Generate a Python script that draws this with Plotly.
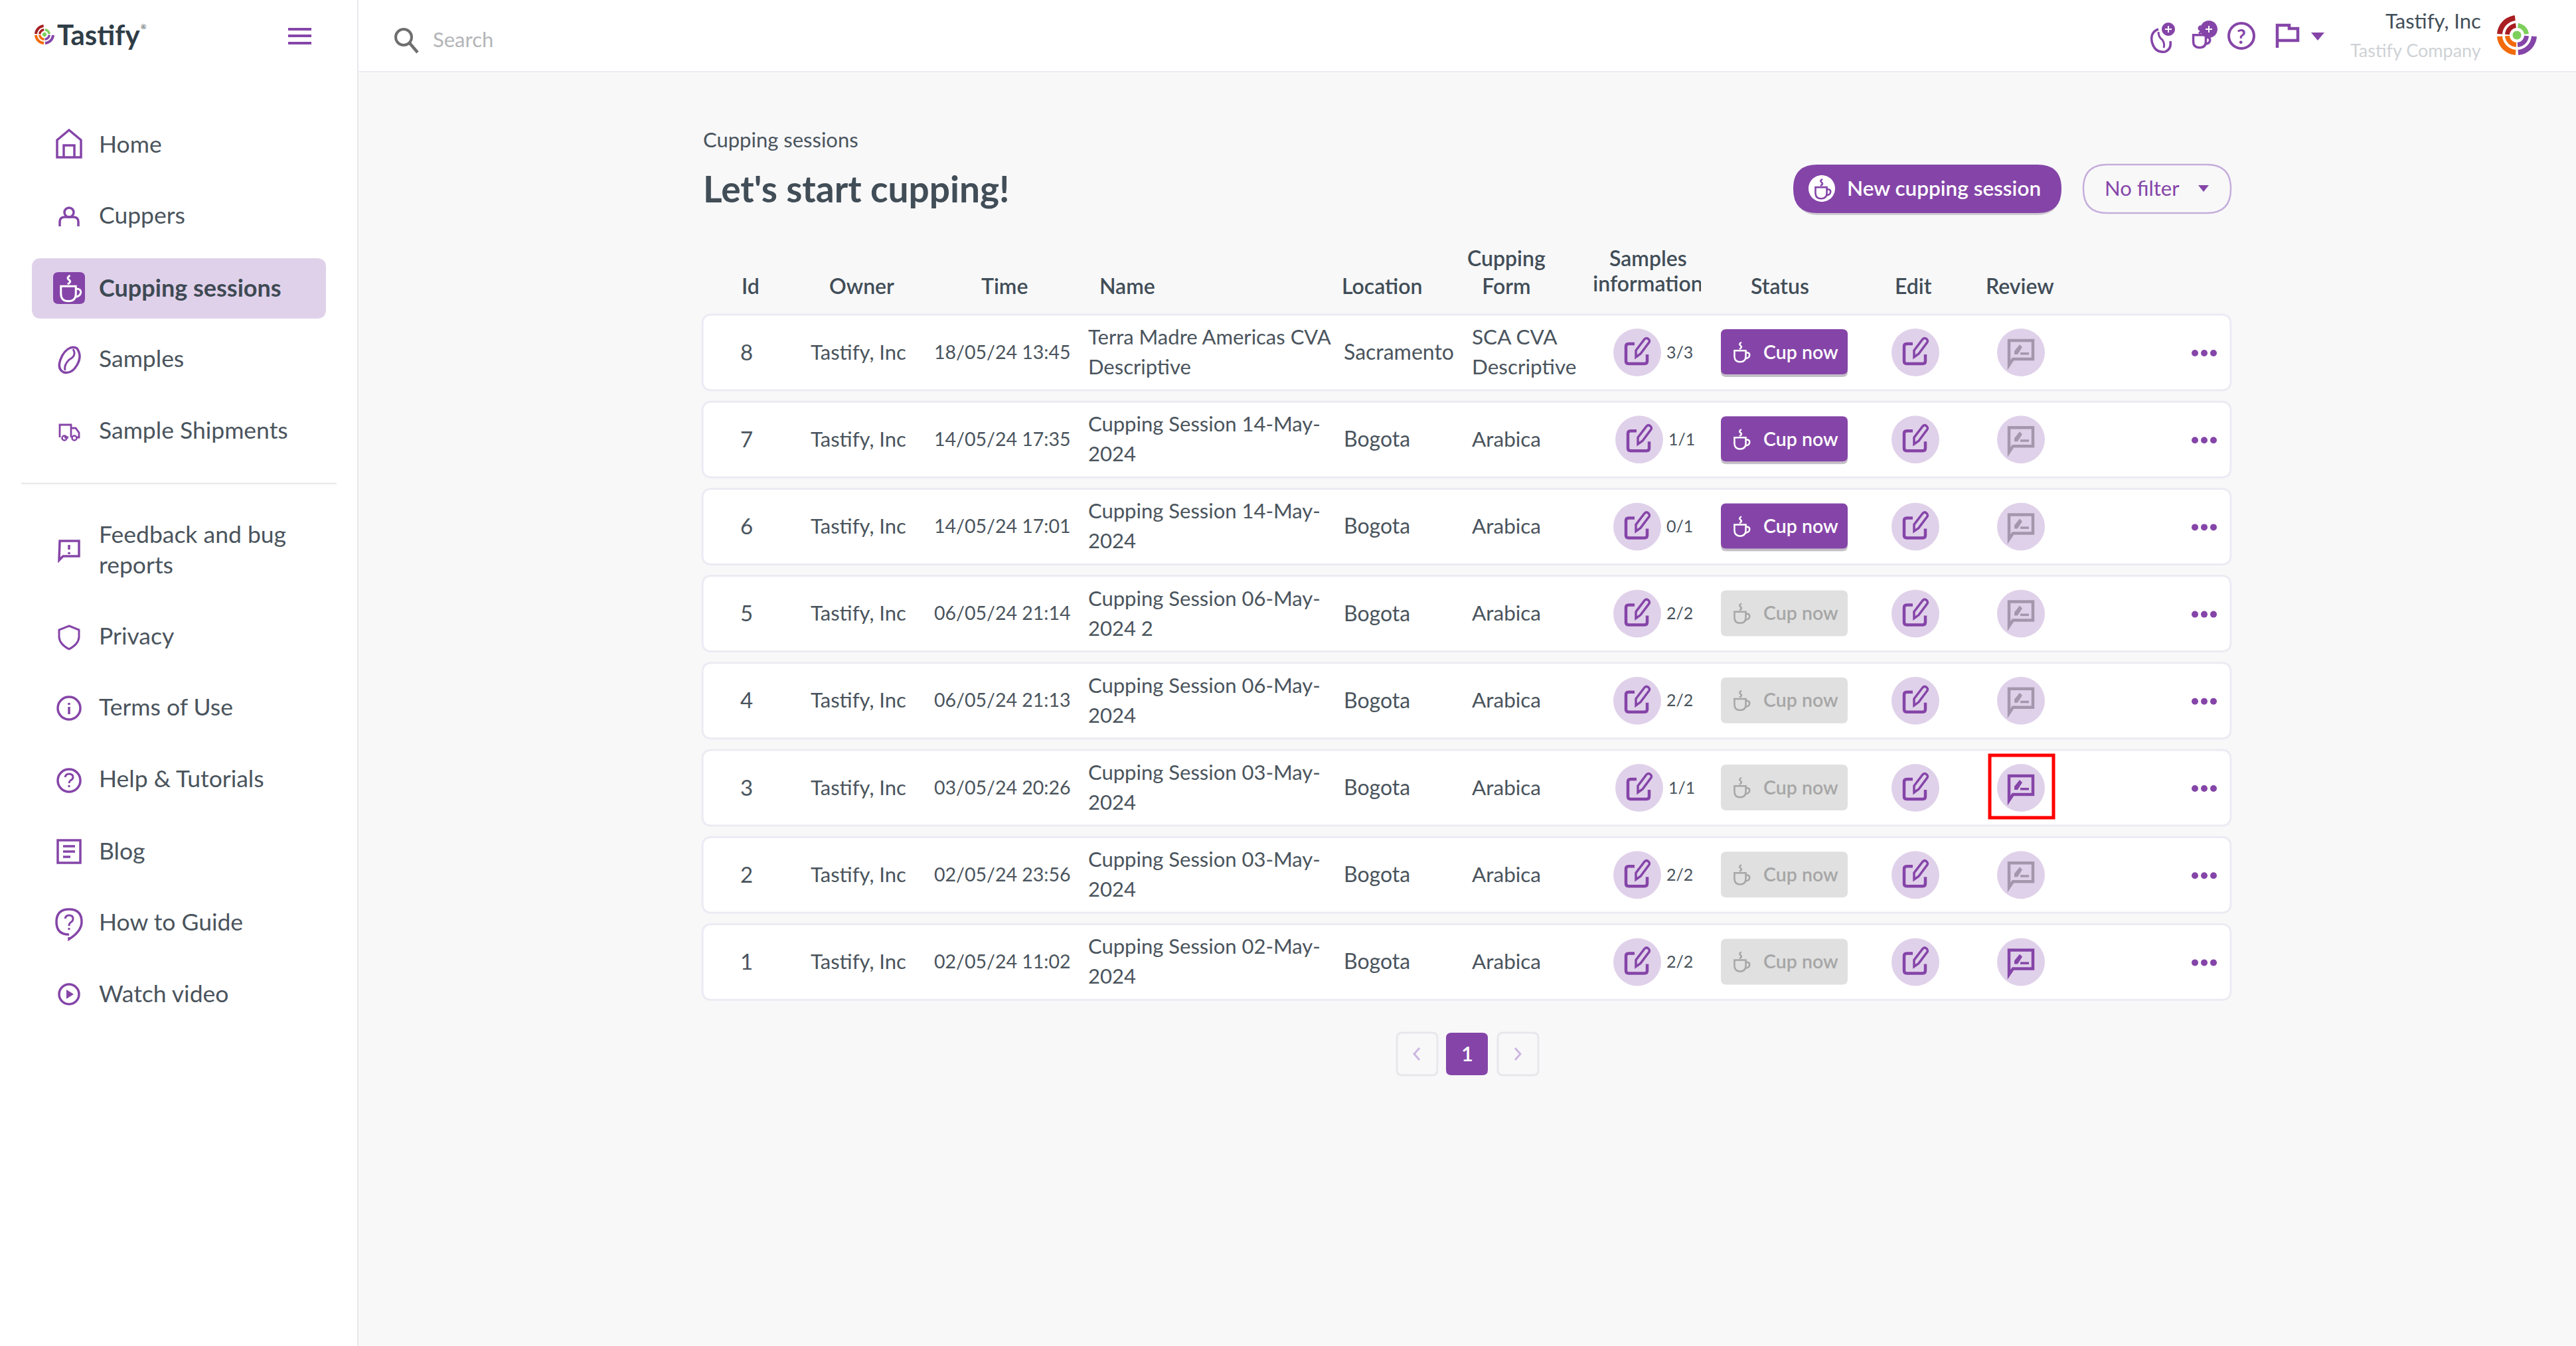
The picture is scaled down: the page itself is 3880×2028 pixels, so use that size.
import math, re
import plotly.graph_objects as go

# ---------- content ----------
ids = [8, 7, 6, 5, 4, 3, 2, 1]
owners = ["Tastify, Inc"] * 8
times = ["18/05/24 13:45", "14/05/24 17:35", "14/05/24 17:01", "06/05/24 21:14",
         "06/05/24 21:13", "03/05/24 20:26", "02/05/24 23:56", "02/05/24 11:02"]
names = ["Terra Madre Americas CVA<br>Descriptive", "Cupping Session 14-May-<br>2024",
         "Cupping Session 14-May-<br>2024", "Cupping Session 06-May-<br>2024 2",
         "Cupping Session 06-May-<br>2024", "Cupping Session 03-May-<br>2024",
         "Cupping Session 03-May-<br>2024", "Cupping Session 02-May-<br>2024"]
locations = ["Sacramento"] + ["Bogota"] * 7
forms = ["SCA CVA<br>Descriptive"] + ["Arabica"] * 7
samples = ["3/3", "1/1", "0/1", "2/2", "2/2", "1/1", "2/2", "2/2"]
cup_active = [True, True, True, False, False, False, False, False]
review_active = [False, False, False, False, False, True, False, True]
headers = ["Id", "Owner", "Time", "Name", "Location", "Cupping<br>Form", "Status", "Edit", "Review"]
nav_labels = ["Home", "Cuppers", "Cupping sessions", "Samples", "Sample Shipments",
              "Feedback and bug<br>reports", "Privacy", "Terms of Use", "Help &amp; Tutorials",
              "Blog", "How to Guide", "Watch video"]

# ---------- style and layout ----------
W, H = 3880, 2028
PURPLE, LILAC = "#8545a8", "#e0d1ea"
BG, LINE = "#f8f8f9", "#ecebf3"
TXT, HEAD, GRAY = "#4a545d", "#414d57", "#a497ad"
FONT = "Lato"
ROW0, PITCH, ROW_H = 531, 131.2, 114
rows_y = [ROW0 + i * PITCH for i in range(len(ids))]
nav_y = [218, 325, 434, 541, 649, 829, 959, 1066, 1174, 1283, 1390, 1498]

shapes, annos = [], []

def rr(x0, y0, x1, y1, r):
    return (f"M {x0+r} {y0} L {x1-r} {y0} Q {x1} {y0} {x1} {y0+r} L {x1} {y1-r} Q {x1} {y1} {x1-r} {y1} "
            f"L {x0+r} {y1} Q {x0} {y1} {x0} {y1-r} L {x0} {y0+r} Q {x0} {y0} {x0+r} {y0} Z")

def box(x0, y0, x1, y1, r=0, fill=None, line=None, lw=0, layer="below"):
    shapes.append(dict(type="path", path=rr(x0, y0, x1, y1, r), fillcolor=fill or "rgba(0,0,0,0)",
                       line=dict(color=line or "rgba(0,0,0,0)", width=lw), layer=layer))

def rel(p, cx, cy, s=1.0):
    out, k = [], 0
    for t in re.findall(r"[A-Za-z]|-?\d+\.?\d*", p):
        if t.isalpha():
            out.append(t)
        else:
            out.append(f"{(cx if k % 2 == 0 else cy) + float(t) * s:.2f}")
            k += 1
    return " ".join(out)

def ic(p, cx, cy, color=PURPLE, lw=3.5, s=1.0, fill=None, layer="above"):
    shapes.append(dict(type="path", path=rel(p, cx, cy, s), fillcolor=fill or "rgba(0,0,0,0)",
                       line=dict(color=color, width=lw if lw else 0), layer=layer))

def ring(r, ox=0, oy=0):
    k = 0.5523 * r
    return (f"M {ox-r} {oy} C {ox-r} {oy-k} {ox-k} {oy-r} {ox} {oy-r} C {ox+k} {oy-r} {ox+r} {oy-k} {ox+r} {oy} "
            f"C {ox+r} {oy+k} {ox+k} {oy+r} {ox} {oy+r} C {ox-k} {oy+r} {ox-r} {oy+k} {ox-r} {oy} Z")

def txt(x, y, t, size=33, color=TXT, anchor="left", weight=400, font=FONT):
    dx = {"left": -2, "right": 4, "center": 0}[anchor]
    annos.append(dict(x=x + dx, y=y - 1.5, text=t, showarrow=False, xanchor=anchor, yanchor="middle", align=anchor,
                      font=dict(family=font, size=size, color=color, weight=weight)))

def cell(x, y, t, size):
    parts = t.split("<br>")
    if len(parts) == 2:
        txt(x, y - 22.5, parts[0], size)
        txt(x, y + 22.5, parts[1], size)
    else:
        txt(x, y, t, size)

def cup(cx, cy, color, s=1.0, lw=2.5):
    ic("M -9 -3 L 9 -3 L 9 6 Q 9 15 0 15 Q -9 15 -9 6 Z", cx, cy, color, lw, s)
    ic("M 9 0 Q 15 0 15 4 Q 15 9 8 10", cx, cy, color, lw, s)
    ic("M 2 -16 Q -3 -13 1 -10.5 Q 4 -8 -1 -5.5", cx, cy, color, lw, s)

def edit_icon(cx, cy):
    ic("M -4 -13 L -13 -13 Q -17 -13 -17 -9 L -17 13 Q -17 17 -13 17 L 11 17 Q 15 17 15 13 L 15 3", cx, cy, PURPLE, 4.5)
    ic("M -2 7 L -2 -3 L 11 -20 Q 14 -23 17 -20 Q 20 -17 17 -14 L 5 2 Z", cx, cy, PURPLE, 3.5)

def review_icon(cx, cy, color):
    ic("M -18 -18 L 18 -18 L 18 10 L -12 10 L -18 19 Z", cx, cy, color, 4.5)
    ic("M -10 3 L -10 -2 L -2 -12 L 2 -8 L -5 3 Z", cx, cy, color, 0, fill=color)
    ic("M -1 0 L 12 0 L 12 3.5 L -1 3.5 Z", cx, cy, color, 0, fill=color)

def wedge(cx, cy, r0, r1, a0, a1, color, s=1.0):
    n = 14
    pts = []
    for i in range(n + 1):
        a = math.radians(a0 + (a1 - a0) * i / n)
        pts.append((cx + r1 * s * math.cos(a), cy - r1 * s * math.sin(a)))
    for i in range(n, -1, -1):
        a = math.radians(a0 + (a1 - a0) * i / n)
        pts.append((cx + r0 * s * math.cos(a), cy - r0 * s * math.sin(a)))
    p = "M " + " L ".join(f"{x:.2f} {y:.2f}" for x, y in pts) + " Z"
    shapes.append(dict(type="path", path=p, fillcolor=color, line=dict(width=0), layer="above"))

def logo(cx, cy, s):
    R, G, V, O = "#a81e22", "#7dcf5c", "#8545a8", "#f26a0a"
    wedge(cx, cy, 22, 30, 96, 176, R, s); wedge(cx, cy, 11, 18, 96, 176, R, s)
    wedge(cx, cy, 11, 18, 6, 84, G, s)
    wedge(cx, cy, 22, 30, 184, 266, O, s); wedge(cx, cy, 11, 18, 184, 266, O, s)
    wedge(cx, cy, 22, 30, 274, 356, V, s); wedge(cx, cy, 11, 18, 274, 356, V, s)
    ic(ring(6.5), cx, cy, G, 0, s, fill=G)

# ---------- page frame ----------
box(0, 0, 539, H, 0, "#ffffff", None, 0)
box(539, 0, W, 108, 0, "#ffffff", None, 0)
shapes.append(dict(type="line", x0=539, x1=539, y0=0, y1=H, line=dict(color="#e8e8ec", width=2), layer="below"))
shapes.append(dict(type="line", x0=539, x1=W, y0=108, y1=108, line=dict(color=LINE, width=2), layer="below"))

# brand
logo(67, 52, 0.5)
txt(86, 53, "Tastify", 42, "#2f3d47", weight=700)
txt(212, 41, "®", 10, "#2f3d47")
for y in (44, 54, 65):
    box(434, y - 2, 469, y + 2, 0, PURPLE)

# search
ic(ring(12), 608, 56, "#6e6e6e", 4)
ic("M 9 9 L 21 23", 608, 56, "#6e6e6e", 4.5)
txt(652, 60, "Search", 31, "#b3b5b8")

# top-right
ic("M -6 -12 Q -18 -8 -16 6 Q -12 24 4 22 Q 14 18 12 6", 3257, 56, PURPLE, 3.5)
ic("M -6 -8 Q -6 0 0 4 Q 4 10 2 16", 3257, 56, PURPLE, 3)
ic(ring(10), 3266, 44, PURPLE, 0, fill=PURPLE)
cup(3313, 56, PURPLE, 1.05, 3.5)
ic(ring(13), 3327, 44, PURPLE, 0, fill=PURPLE)
for cx in (3266, 3327):
    ic("M -5 0 L 5 0 M 0 -5 L 0 5", cx, 44, "#ffffff", 2)
ic(ring(19), 3376, 54, PURPLE, 4)
txt(3376, 55, "?", 30, PURPLE, "center", 700)
ic("M 0 34 L 0 0 L 18 0 L 18 5 L 31 5 L 31 23 L 0 23", 3430, 38, PURPLE, 4.5)
ic("M -10 -6 L 10 -6 L 0 6 Z", 3491, 55, PURPLE, 0, fill=PURPLE)
txt(3735, 32, "Tastify, Inc", 31, "#434f59", "right")
txt(3735, 77, "Tastify Company", 27, "#ced2d6", "right")
logo(3791, 53, 1.0)

# sidebar
box(48, 389, 491, 480, 14, LILAC)
box(80, 410, 128, 458, 8, PURPLE)
cup(103, 435, "#ffffff", 1.25, 3)
box(32, 727.5, 507, 729.5, 0, "#e6e6ea")
for i, (lab, y) in enumerate(zip(nav_labels, nav_y)):
    txt(149, y, lab, 36 if i == 2 else 35.5, "#3e4a54" if i == 2 else TXT, weight=700 if i == 2 else 400)

# sidebar icons
ic("M -18 20 L -18 -6 L 0 -21 L 18 -6 L 18 20 Z", 104, 217)
ic("M -8 20 L -8 2 L 8 2 L 8 20", 104, 217)
ic(ring(7), 104, 320)
ic("M -14 21 L -14 14 Q -14 7 -6 7 L 6 7 Q 14 7 14 14 L 14 21", 104, 320)
ic("M 12 -17 Q 20 -6 12 8 Q 4 22 -8 19 Q -18 14 -13 0 Q -8 -14 2 -18 Q 8 -20 12 -17 Z", 104, 542)
ic("M 6 -16 Q 12 -6 0 0 Q -8 8 -6 16", 104, 542, PURPLE, 3)
ic("M -14 9 L -14 -10 L 3 -10 L 3 9 M 3 -5 L 10 -5 L 15 2 L 15 9 L 11 9 M -1 9 L -7 9", 104, 650, PURPLE, 2.8)
ic(ring(3.5), 97, 660, PURPLE, 2.5)
ic(ring(3.5), 112, 660, PURPLE, 2.5)
ic("M -14 -14 L 15 -14 L 15 9 L -9 9 L -15 15 Z", 104, 829, PURPLE, 3.5)
ic("M 0 -8 L 0 -1 M 0 3 L 0 6", 104, 829, PURPLE, 3.5)
ic("M 0 -17 L 15 -11 L 15 0 Q 14 11 0 18 Q -14 11 -15 0 L -15 -11 Z", 104, 960, PURPLE, 3)
ic(ring(17), 104, 1067)
ic("M 0 -2 L 0 9 M 0 -8 L 0 -5", 104, 1067, PURPLE, 3.5)
ic(ring(17), 104, 1176)
ic("M -6 -5 Q -5 -10 0 -10 Q 6 -10 6 -5 Q 6 -2 2 0 Q 0 2 0 4 M 0 7 L 0 10", 104, 1176, PURPLE, 3)
ic("M -17 -17 L 17 -17 L 17 17 L -17 17 Z", 104, 1283, PURPLE, 3.5)
ic("M -9 -8 L 9 -8 M -9 0 L 9 0 M -9 8 L 2 8", 104, 1283, PURPLE, 3.5)
ic("M 0 21 L 0 24 Q 19 12 19 -2 Q 19 -21 0 -21 Q -19 -21 -19 -2 Q -19 17 0 17", 104, 1391, PURPLE, 3.5)
ic("M -6 -7 Q -5 -12 0 -12 Q 6 -12 6 -7 Q 6 -3 2 -1 Q 0 1 0 4 M 0 7 L 0 10", 104, 1391, PURPLE, 3)
ic(ring(15), 104, 1498)
ic("M -4 -7 L 7 0 L -4 7 Z", 104, 1498, PURPLE, 0, fill=PURPLE)

# page heading and actions
txt(1059, 211, "Cupping sessions", 31, TXT)
txt(1059, 285, "Let's start cupping!", 55, HEAD, weight=700)
box(2705, 256, 3102, 324, 34, "rgba(60,40,70,0.22)")
box(2701, 248, 3105, 321, 36, PURPLE)
ic(ring(20), 2744, 284, "#ffffff", 0, fill="#ffffff")
cup(2743, 285, PURPLE, 0.95, 2.6)
txt(2782, 284, "New cupping session", 31.5, "#ffffff", weight=600)
box(3138, 248, 3360, 321, 36, "rgba(0,0,0,0)", "#c5aedb", 2.5)
txt(3170, 284, "No filter", 31, PURPLE)
ic("M -8 -5 L 8 -5 L 0 5 Z", 3319, 284, PURPLE, 0, fill=PURPLE)

# table head
hx = [1130, 1298, 1513, 1698, 2081, 2269, 2681, 2882, 3042]
for h, x in zip(headers, hx):
    txt(x, 411 if "<br>" in h else 432, h, 32, HEAD, "center", 600)
txt(2482, 390, "Samples", 32, HEAD, "center", 600)

# cards
for y in rows_y:
    box(1058, y - 57, 3360, y + 57, 14, "#ffffff", LINE, 3)

# table columns, placed on the row scale by the library
edit_x = [2469 if s[0] == "1" and s[2] == "1" else 2466 for s in samples]
fig = go.Figure()
fig.add_trace(go.Scatter(x=[2482], y=[431], mode="text", text=["information"], textposition="middle center",
                         textfont=dict(family=FONT, size=32, color=HEAD, weight=600), hoverinfo="skip"))
fig.add_trace(go.Scatter(x=edit_x, y=rows_y, mode="markers", marker=dict(size=72, color=LILAC), hoverinfo="skip"))
fig.add_trace(go.Scatter(x=[2885] * 8, y=rows_y, mode="markers", marker=dict(size=72, color=LILAC), hoverinfo="skip"))
fig.add_trace(go.Scatter(x=[3044] * 8, y=rows_y, mode="markers", marker=dict(size=72, color=LILAC), hoverinfo="skip"))
for dx in (-14, 0, 14):
    fig.add_trace(go.Scatter(x=[3320 + dx] * 8, y=[v + 1 for v in rows_y], mode="markers",
                             marker=dict(size=10, color=PURPLE), hoverinfo="skip"))
# mask that cuts the header text at its column edge
box(2562, 405, 2600, 460, 0, BG, layer="above")

for i, y in enumerate(rows_y):
    txt(1124, y, str(ids[i]), 33, TXT, "center")
    txt(1293, y, owners[i], 31, TXT, "center")
    txt(1510, y, times[i], 28.5, TXT, "center")
    cell(1639, y, names[i], 31)
    txt(2024, y, locations[i], 32, TXT)
    cell(2217, y, forms[i], 31.5)
    txt(edit_x[i] + 44, y, samples[i], 25, TXT)
    edit_icon(edit_x[i], y)
    edit_icon(2885, y)
    review_icon(3044, y, PURPLE if review_active[i] else GRAY)
    if cup_active[i]:
        box(2592, y - 31, 2783, y + 37, 8, "rgba(60,40,70,0.30)")
        box(2592, y - 35, 2783, y + 33, 8, PURPLE)
        cup(2621, y, "#ffffff", 0.95, 2.5)
        txt(2656, y, "Cup now", 28.5, "#ffffff", weight=600)
    else:
        box(2592, y - 35, 2783, y + 34, 8, "#e0e0e0")
        cup(2621, y, "#a6a6a6", 0.95, 2.5)
        txt(2656, y, "Cup now", 28.5, "#a6a6a6", weight=600)

# highlight box
box(2997, 1138, 3093, 1232, 0, None, "#ff0000", 5, layer="above")

# pagination
box(2104, 1556, 2165, 1620, 8, "#f8f8f9", "#e8e8ec", 3)
box(2256, 1556, 2317, 1620, 8, "#f8f8f9", "#e8e8ec", 3)
box(2178, 1556, 2241, 1620, 8, PURPLE)
txt(2209.5, 1588, "1", 31, "#ffffff", "center", 600)
ic("M 5 -9 L -3 0 L 5 9", 2133, 1588, "#cdb6e0", 3)
ic("M -5 -9 L 3 0 L -5 9", 2287, 1588, "#cdb6e0", 3)

fig.update_layout(
    width=W, height=H, margin=dict(l=0, r=0, t=0, b=0), showlegend=False,
    paper_bgcolor=BG, plot_bgcolor=BG, shapes=shapes, annotations=annos,
    xaxis=dict(range=[0, W], visible=False, fixedrange=True),
    yaxis=dict(range=[H, 0], visible=False, fixedrange=True),
)
fig.write_html("out.html", config=dict(displayModeBar=False),
               post_script="document.body.style.margin='0';document.body.style.overflow='hidden';")
